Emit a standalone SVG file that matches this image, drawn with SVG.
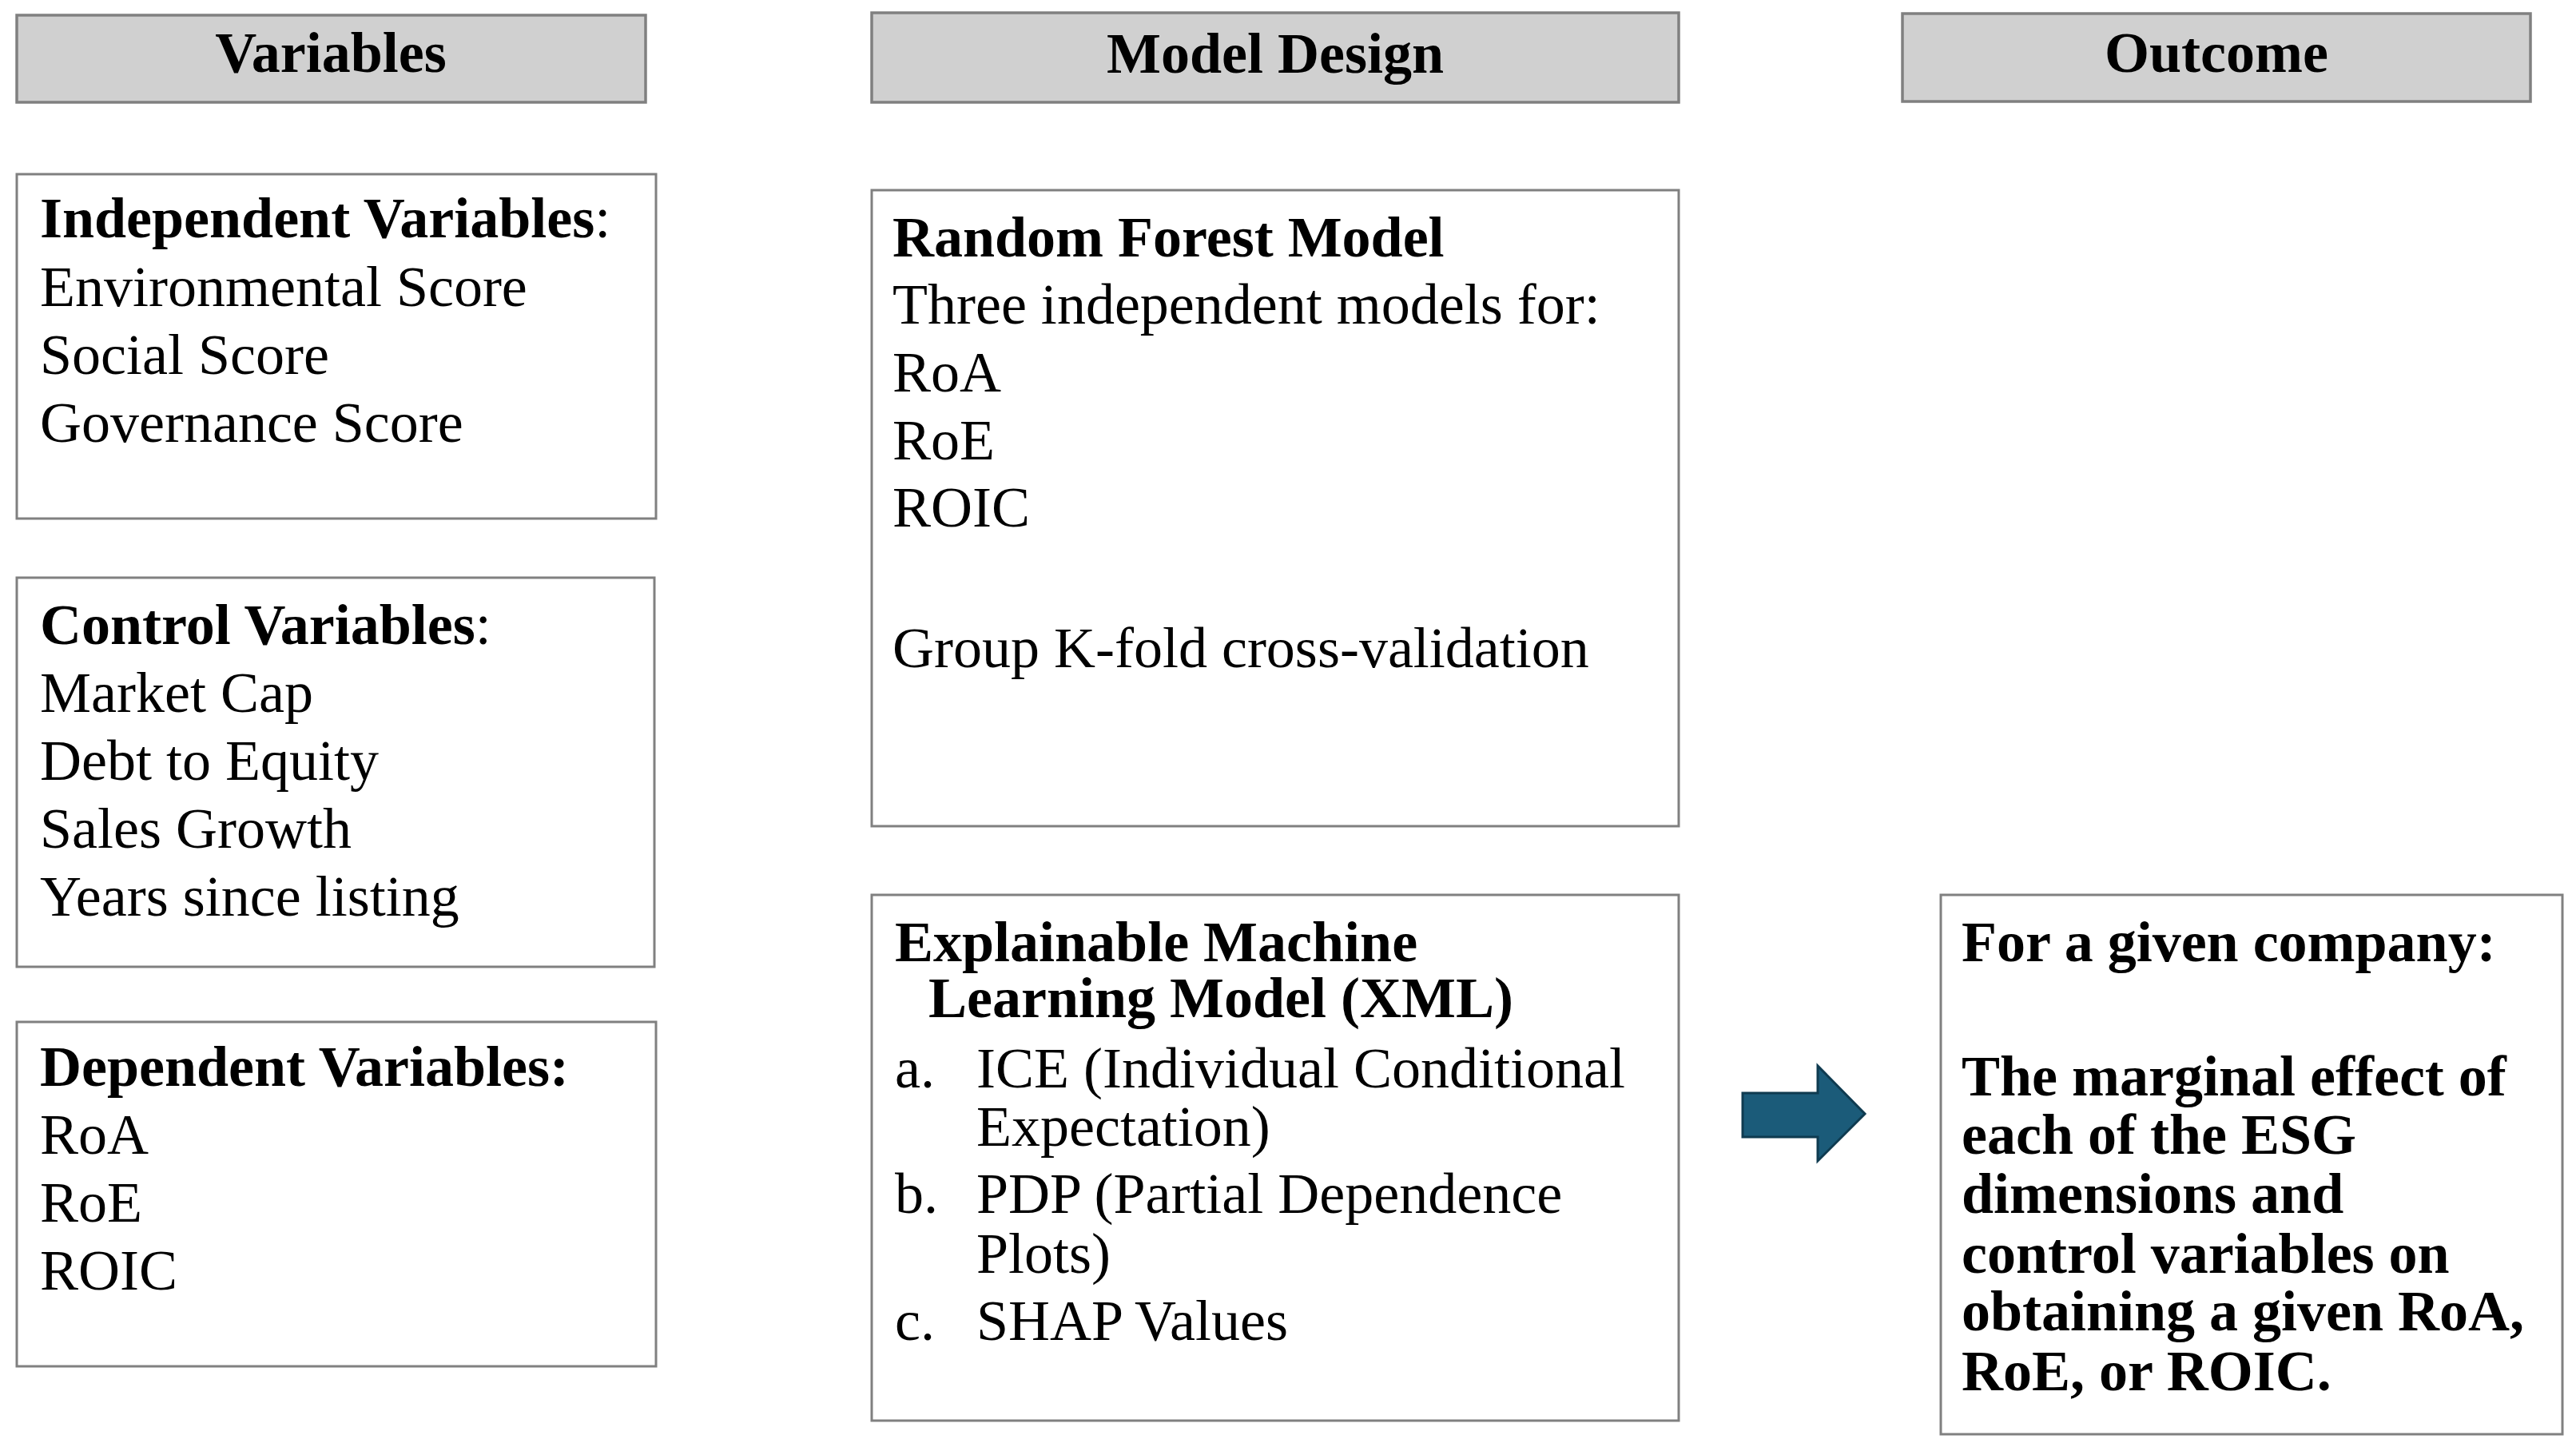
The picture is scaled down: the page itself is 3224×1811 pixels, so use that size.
<svg xmlns="http://www.w3.org/2000/svg" width="3224" height="1811" viewBox="0 0 3224 1811">
<style>
text{font-family:"Palatino Linotype","Book Antiqua","Liberation Serif",serif;font-size:72px;fill:#000}
.b{font-weight:bold}
.n{font-weight:normal}
.hdr{fill:#d0d0d0;stroke:#808080;stroke-width:3.5}
.box{fill:#fff;stroke:#808080;stroke-width:3}
.h{font-weight:bold;text-anchor:middle}
</style>
<rect width="3224" height="1811" fill="#fff"/>
<g id="hdr-variables"><rect class="hdr" x="21" y="19" width="787" height="109"/><text class="h" x="414" y="90">Variables</text></g>
<g id="hdr-model"><rect class="hdr" x="1091" y="16" width="1010" height="112"/><text class="h" x="1596" y="91">Model Design</text></g>
<g id="hdr-outcome"><rect class="hdr" x="2381" y="17" width="786" height="110"/><text class="h" x="2774" y="90">Outcome</text></g>
<g id="independent"><rect class="box" x="21" y="218" width="800" height="431"/>
<text x="50" y="297"><tspan class="b">Independent Variables</tspan>:</text>
<text x="50" y="383">Environmental  Score</text>
<text x="50" y="468">Social Score</text>
<text x="50" y="553">Governance Score</text></g>
<g id="control"><rect class="box" x="21" y="723" width="798" height="487"/>
<text x="50" y="806"><tspan class="b">Control  Variables</tspan>:</text>
<text x="50" y="891">Market Cap</text>
<text x="50" y="976">Debt to Equity</text>
<text x="50" y="1061">Sales Growth</text>
<text x="50" y="1146">Years since listing</text></g>
<g id="dependent"><rect class="box" x="21" y="1279" width="800" height="431"/>
<text class="b" x="50" y="1359">Dependent Variables:</text>
<text x="50" y="1444">RoA</text>
<text x="50" y="1529">RoE</text>
<text x="50" y="1614">ROIC</text></g>
<g id="random-forest"><rect class="box" x="1091" y="238" width="1010" height="796"/>
<text class="b" x="1117" y="321">Random Forest Model</text>
<text x="1117" y="405">Three independent models  for:</text>
<text x="1117" y="490">RoA</text>
<text x="1117" y="575">RoE</text>
<text x="1117" y="659">ROIC</text>
<text x="1117" y="835">Group K-fold  cross-validation</text></g>
<g id="xml"><rect class="box" x="1091" y="1120" width="1010" height="658"/>
<text class="b" x="1120" y="1203">Explainable  Machine</text>
<text class="b" x="1162" y="1273">Learning Model (XML)</text>
<text x="1120" y="1361">a.</text><text x="1222" y="1361">ICE (Individual  Conditional</text>
<text x="1222" y="1434">Expectation)</text>
<text x="1120" y="1518">b.</text><text x="1222" y="1518">PDP (Partial Dependence</text>
<text x="1222" y="1593">Plots)</text>
<text x="1120" y="1677">c.</text><text x="1222" y="1677">SHAP Values</text></g>
<g id="connectors"><path d="M2181 1368 H2275 V1334 L2334 1394 L2275 1453 V1423 H2181 Z" fill="#1b5b79" stroke="#0f3b50" stroke-width="3" stroke-linejoin="miter"/></g>
<g id="outcome"><rect class="box" x="2429" y="1120" width="778" height="675"/>
<text class="b" x="2455" y="1203">For a given company:</text>
<text class="b" x="2455" y="1371">The marginal effect of</text>
<text class="b" x="2455" y="1444">each of the ESG</text>
<text class="b" x="2455" y="1518">dimensions and</text>
<text class="b" x="2455" y="1593">control variables  on</text>
<text class="b" x="2455" y="1665">obtaining a given RoA,</text>
<text class="b" x="2455" y="1740">RoE, or ROIC.</text></g>
</svg>
